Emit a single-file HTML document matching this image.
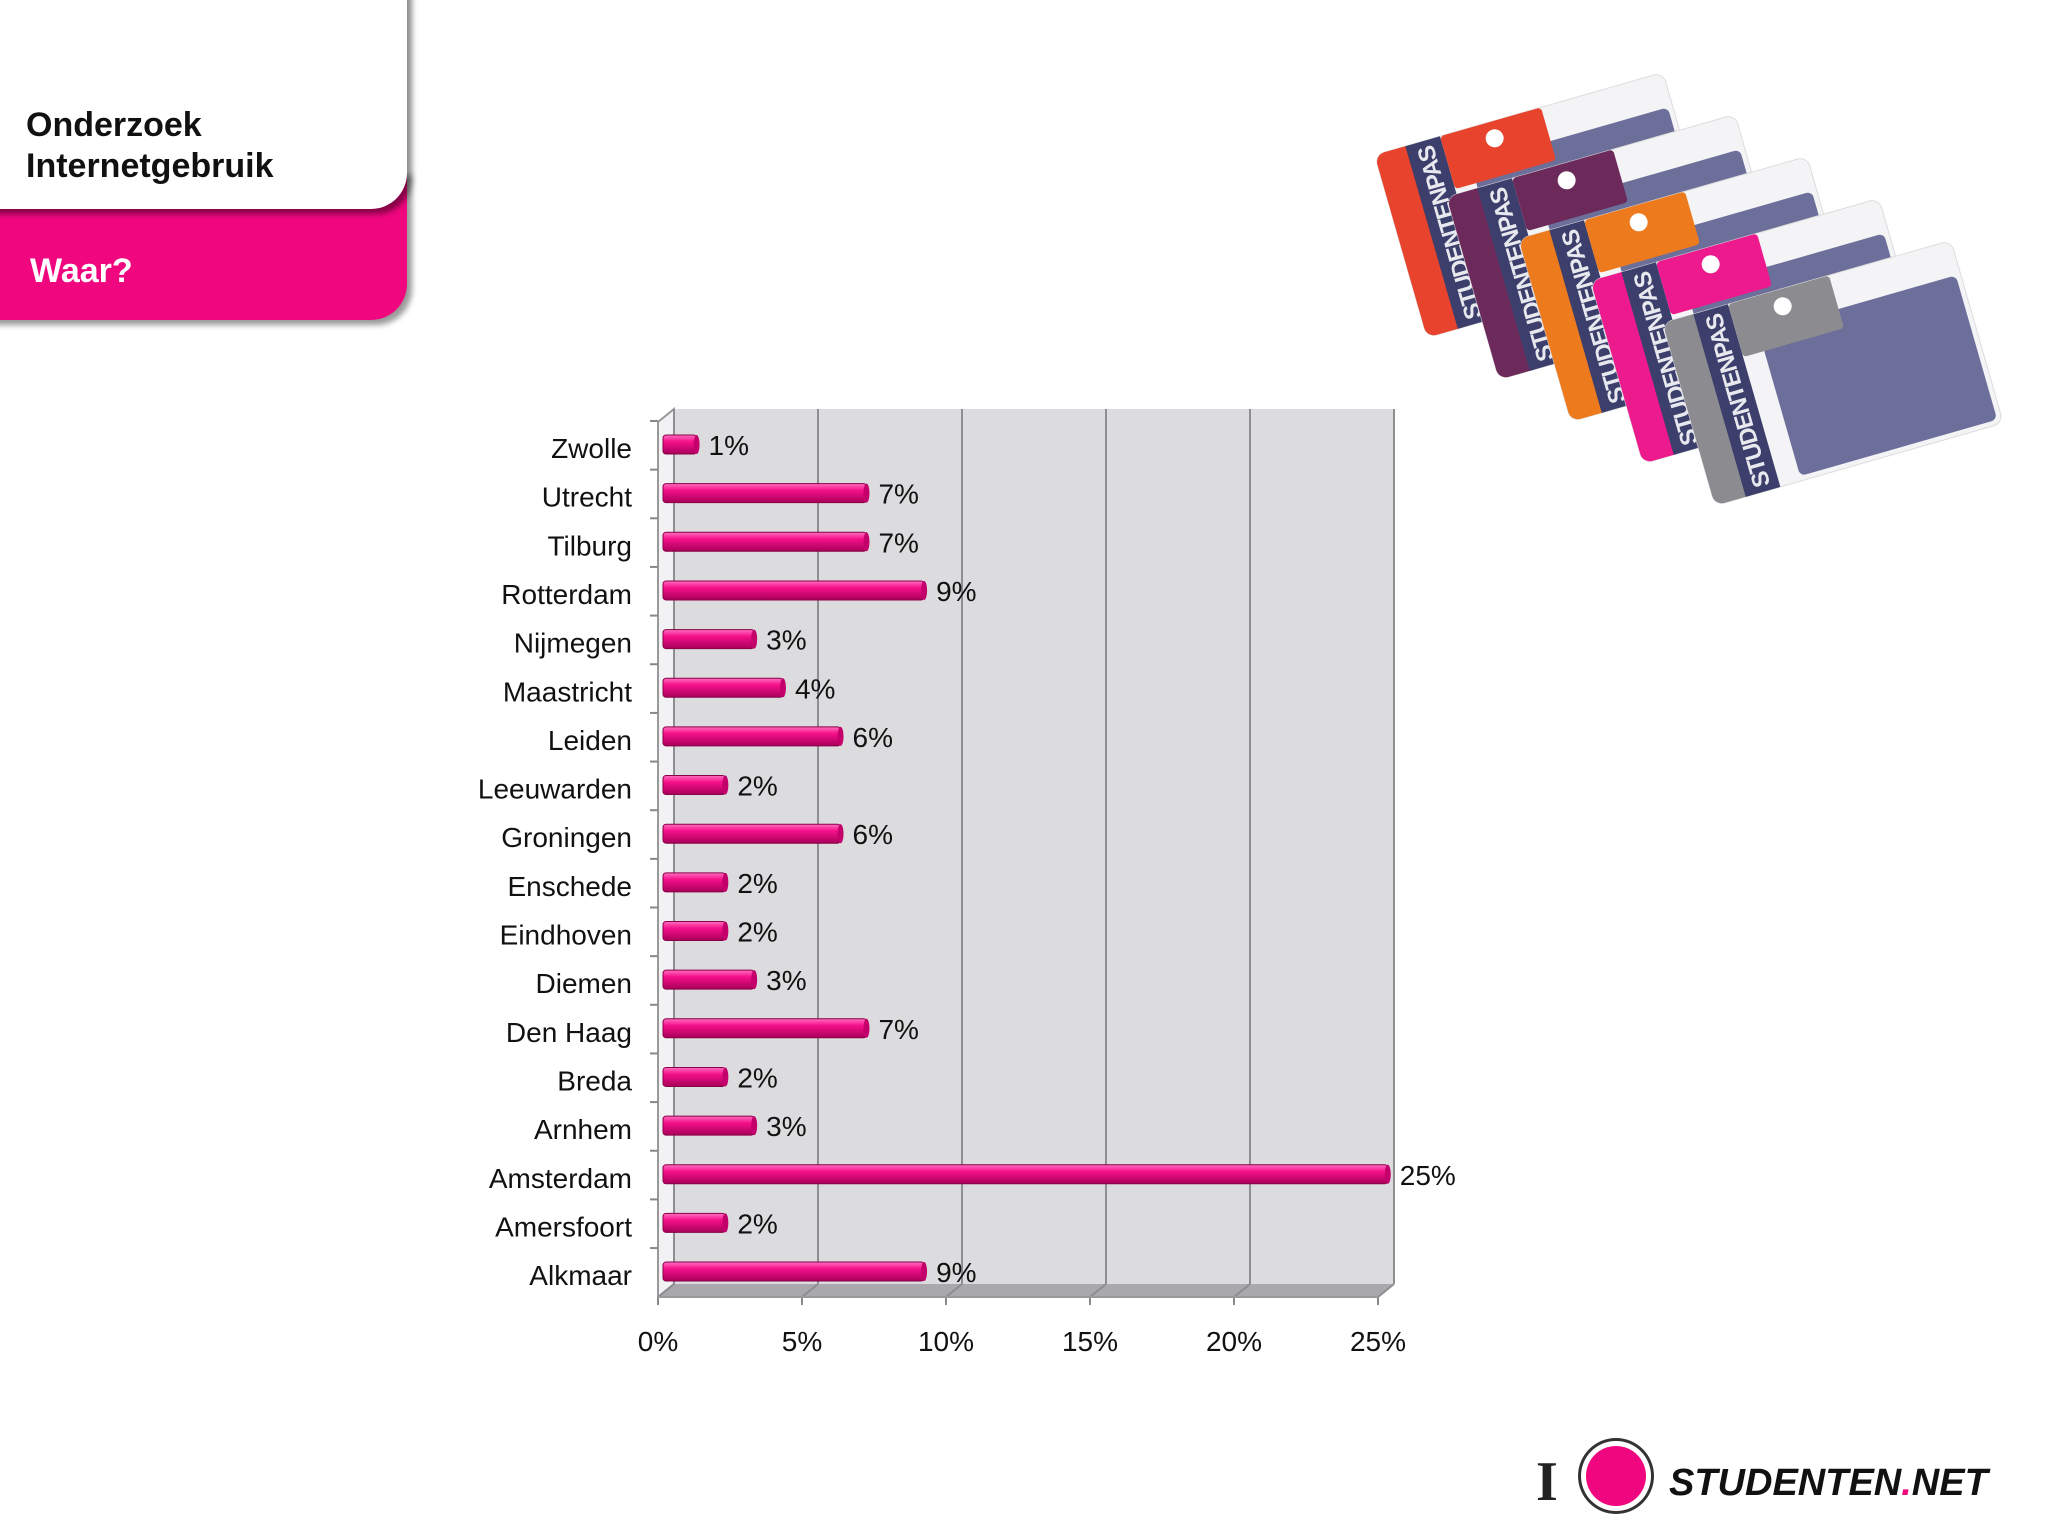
<!DOCTYPE html>
<html><head><meta charset="utf-8">
<style>
html,body{margin:0;padding:0;background:#fff;}
body{width:2048px;height:1536px;position:relative;overflow:hidden;font-family:"Liberation Sans",sans-serif;}
#title-box{position:absolute;left:-20px;top:-20px;width:427px;height:229px;background:#fff;border-bottom-right-radius:36px;box-shadow:5px 5px 6px rgba(0,0,0,0.45);z-index:2;}
#sub-box{position:absolute;left:-20px;top:170px;width:427px;height:150px;background:#f0067f;border-bottom-right-radius:36px;box-shadow:5px 5px 6px rgba(0,0,0,0.4);z-index:1;}
.t{position:absolute;font-weight:bold;z-index:3;}
</style></head><body>
<div id="title-box"></div>
<div id="sub-box"></div>
<div class="t" style="left:26px;top:105px;font-size:34px;line-height:41px;color:#111;">Onderzoek<br>Internetgebruik</div>
<div class="t" style="left:30px;top:252px;font-size:34px;color:#fff;">Waar?</div>

<svg id="cards" width="2048" height="1536" style="position:absolute;left:0;top:0;">
</svg>

<svg id="chart" width="2048" height="1536" style="position:absolute;left:0;top:0;">
<defs>
<linearGradient id="barg" x1="0" y1="0" x2="0" y2="1">
<stop offset="0" stop-color="#ff6fc0"/><stop offset="0.35" stop-color="#f5108a"/><stop offset="1" stop-color="#a8005a"/>
</linearGradient>
</defs>
</svg>

<div style="position:absolute;left:1536px;top:1440px;width:512px;height:80px;">
<span style="position:absolute;left:0;top:10px;font-family:'Liberation Serif',serif;font-size:56px;font-weight:bold;color:#222;">I</span>
<div style="position:absolute;left:50px;top:6px;width:60px;height:60px;border-radius:50%;background:#f0067f;box-shadow:0 0 0 5px #fff,0 0 0 8px #333;"></div>
<span style="position:absolute;left:133px;top:22px;font-size:38px;font-weight:bold;font-style:italic;color:#111;">STUDENTEN<span style="color:#f0067f">.</span>NET</span>
</div>

<script>
const categories=["Zwolle","Utrecht","Tilburg","Rotterdam","Nijmegen","Maastricht","Leiden","Leeuwarden","Groningen","Enschede","Eindhoven","Diemen","Den Haag","Breda","Arnhem","Amsterdam","Amersfoort","Alkmaar"];
const values=[1.2,7.1,7.1,9.1,3.2,4.2,6.2,2.2,6.2,2.2,2.2,3.2,7.1,2.2,3.2,25.2,2.2,9.1];
const valueLabels=["1%","7%","7%","9%","3%","4%","6%","2%","6%","2%","2%","3%","7%","2%","3%","25%","2%","9%"];
const ticks=[0,5,10,15,20,25];
const tickLabels=["0%","5%","10%","15%","20%","25%"];

const NS="http://www.w3.org/2000/svg";
const svg=document.getElementById('chart');
function mk(tag,attrs,parent){const e=document.createElementNS(NS,tag);for(const k in attrs)e.setAttribute(k,attrs[k]);(parent||svg).appendChild(e);return e;}
const X0=658, PXV=28.8, DX=16, DY=13;
const TOP=409, BOT=1297;
const x=v=>X0+v*PXV;
const yRow=i=>445+i*48.65;

const wall=mk('rect',{x:X0+DX,y:TOP,width:x(25)-X0,height:BOT-DY-TOP,fill:'#dcdbde'});


const floor=mk('polygon',{points:`${X0},${BOT} ${X0+DX},${BOT-DY} ${x(25)+DX},${BOT-DY} ${x(25)},${BOT}`,fill:'#a9a8ac'});


const side=mk('polygon',{points:`${X0},${TOP+DY} ${X0+DX},${TOP} ${X0+DX},${BOT-DY} ${X0},${BOT}`,fill:'#f2f2f4',stroke:'#999','stroke-width':2});



ticks.forEach((t,i)=>{
  const gx=x(t)+DX;
  const gl=mk('line',{x1:gx,y1:TOP,x2:gx,y2:BOT-DY,stroke:'#8e8d91','stroke-width':2});
  
  
  const fl=mk('line',{x1:x(t),y1:BOT,x2:gx,y2:BOT-DY,stroke:'#8e8d91','stroke-width':2});
  
  
  const tk=mk('line',{x1:x(t),y1:BOT,x2:x(t),y2:BOT+8,stroke:'#888','stroke-width':2});
  
  
  const tl=mk('text',{x:x(t),y:1351,'font-size':28,'text-anchor':'middle',fill:'#111','font-family':'Liberation Sans, sans-serif'});
  tl.textContent=tickLabels[i];
  
  
});
const ax=mk('line',{x1:X0,y1:BOT,x2:x(25),y2:BOT,stroke:'#999','stroke-width':2});


const ay=mk('line',{x1:X0,y1:TOP+DY,x2:X0,y2:BOT,stroke:'#999','stroke-width':2});



categories.forEach((c,i)=>{
  const yc=yRow(i);
  const tk=mk('line',{x1:X0-8,y1:yc-24,x2:X0,y2:yc-24,stroke:'#888','stroke-width':2});
  
  
  const lab=mk('text',{x:632,y:yc+13,'font-size':28,'text-anchor':'end',fill:'#111','font-family':'Liberation Sans, sans-serif'});
  lab.textContent=c;
  
  
  const bx=X0+5, bw=x(values[i])-X0-1, by=yc-10;
  const bar=mk('rect',{x:bx,y:by,width:bw,height:19,rx:3,fill:'url(#barg)',stroke:'#8a0048','stroke-width':1});
  
  
  const cap=mk('ellipse',{cx:bx+bw,cy:by+9.5,rx:3,ry:9.5,fill:'#c4006a'});
  
  
  const vl=mk('text',{x:bx+bw+12,y:yc+10,'font-size':28,fill:'#111','font-family':'Liberation Sans, sans-serif'});
  vl.textContent=valueLabels[i];
  
  
});

// decorative cards
const cs=document.getElementById('cards');
const cardColors=["#e8432c","#6b2a5a","#ee7a1e","#ec1a8c","#8c8c90"];
cardColors.forEach((col,i)=>{
  const cx=1545+i*72, cy=205+i*42;
  const g=document.createElementNS(NS,'g');
  g.setAttribute('transform',`translate(${cx},${cy}) rotate(-16)`);
  
  
  cs.appendChild(g);
  mk('rect',{x:-150,y:-95,width:300,height:190,rx:10,fill:'#f4f4f6',stroke:'#ddd','stroke-width':1},g);
  mk('rect',{x:-60,y:-60,width:205,height:150,rx:6,fill:'#4a4d82',opacity:0.8},g);
  mk('rect',{x:-150,y:-95,width:45,height:190,rx:10,fill:col},g);
  mk('rect',{x:-118,y:-95,width:36,height:190,fill:'#3c3f6b'},g);
  mk('rect',{x:-82,y:-95,width:105,height:55,rx:4,fill:col},g);
  mk('circle',{cx:-30,cy:-78,r:9,fill:'#fff'},g);
  const tx=mk('text',{x:0,y:0,'font-size':24,'font-weight':'bold',fill:'#e8e8ef','font-family':'Liberation Sans, sans-serif',transform:'translate(-91,90) rotate(-90)',textLength:180},g);
  tx.textContent='STUDENTENPAS';
});
</script>
</body></html>
